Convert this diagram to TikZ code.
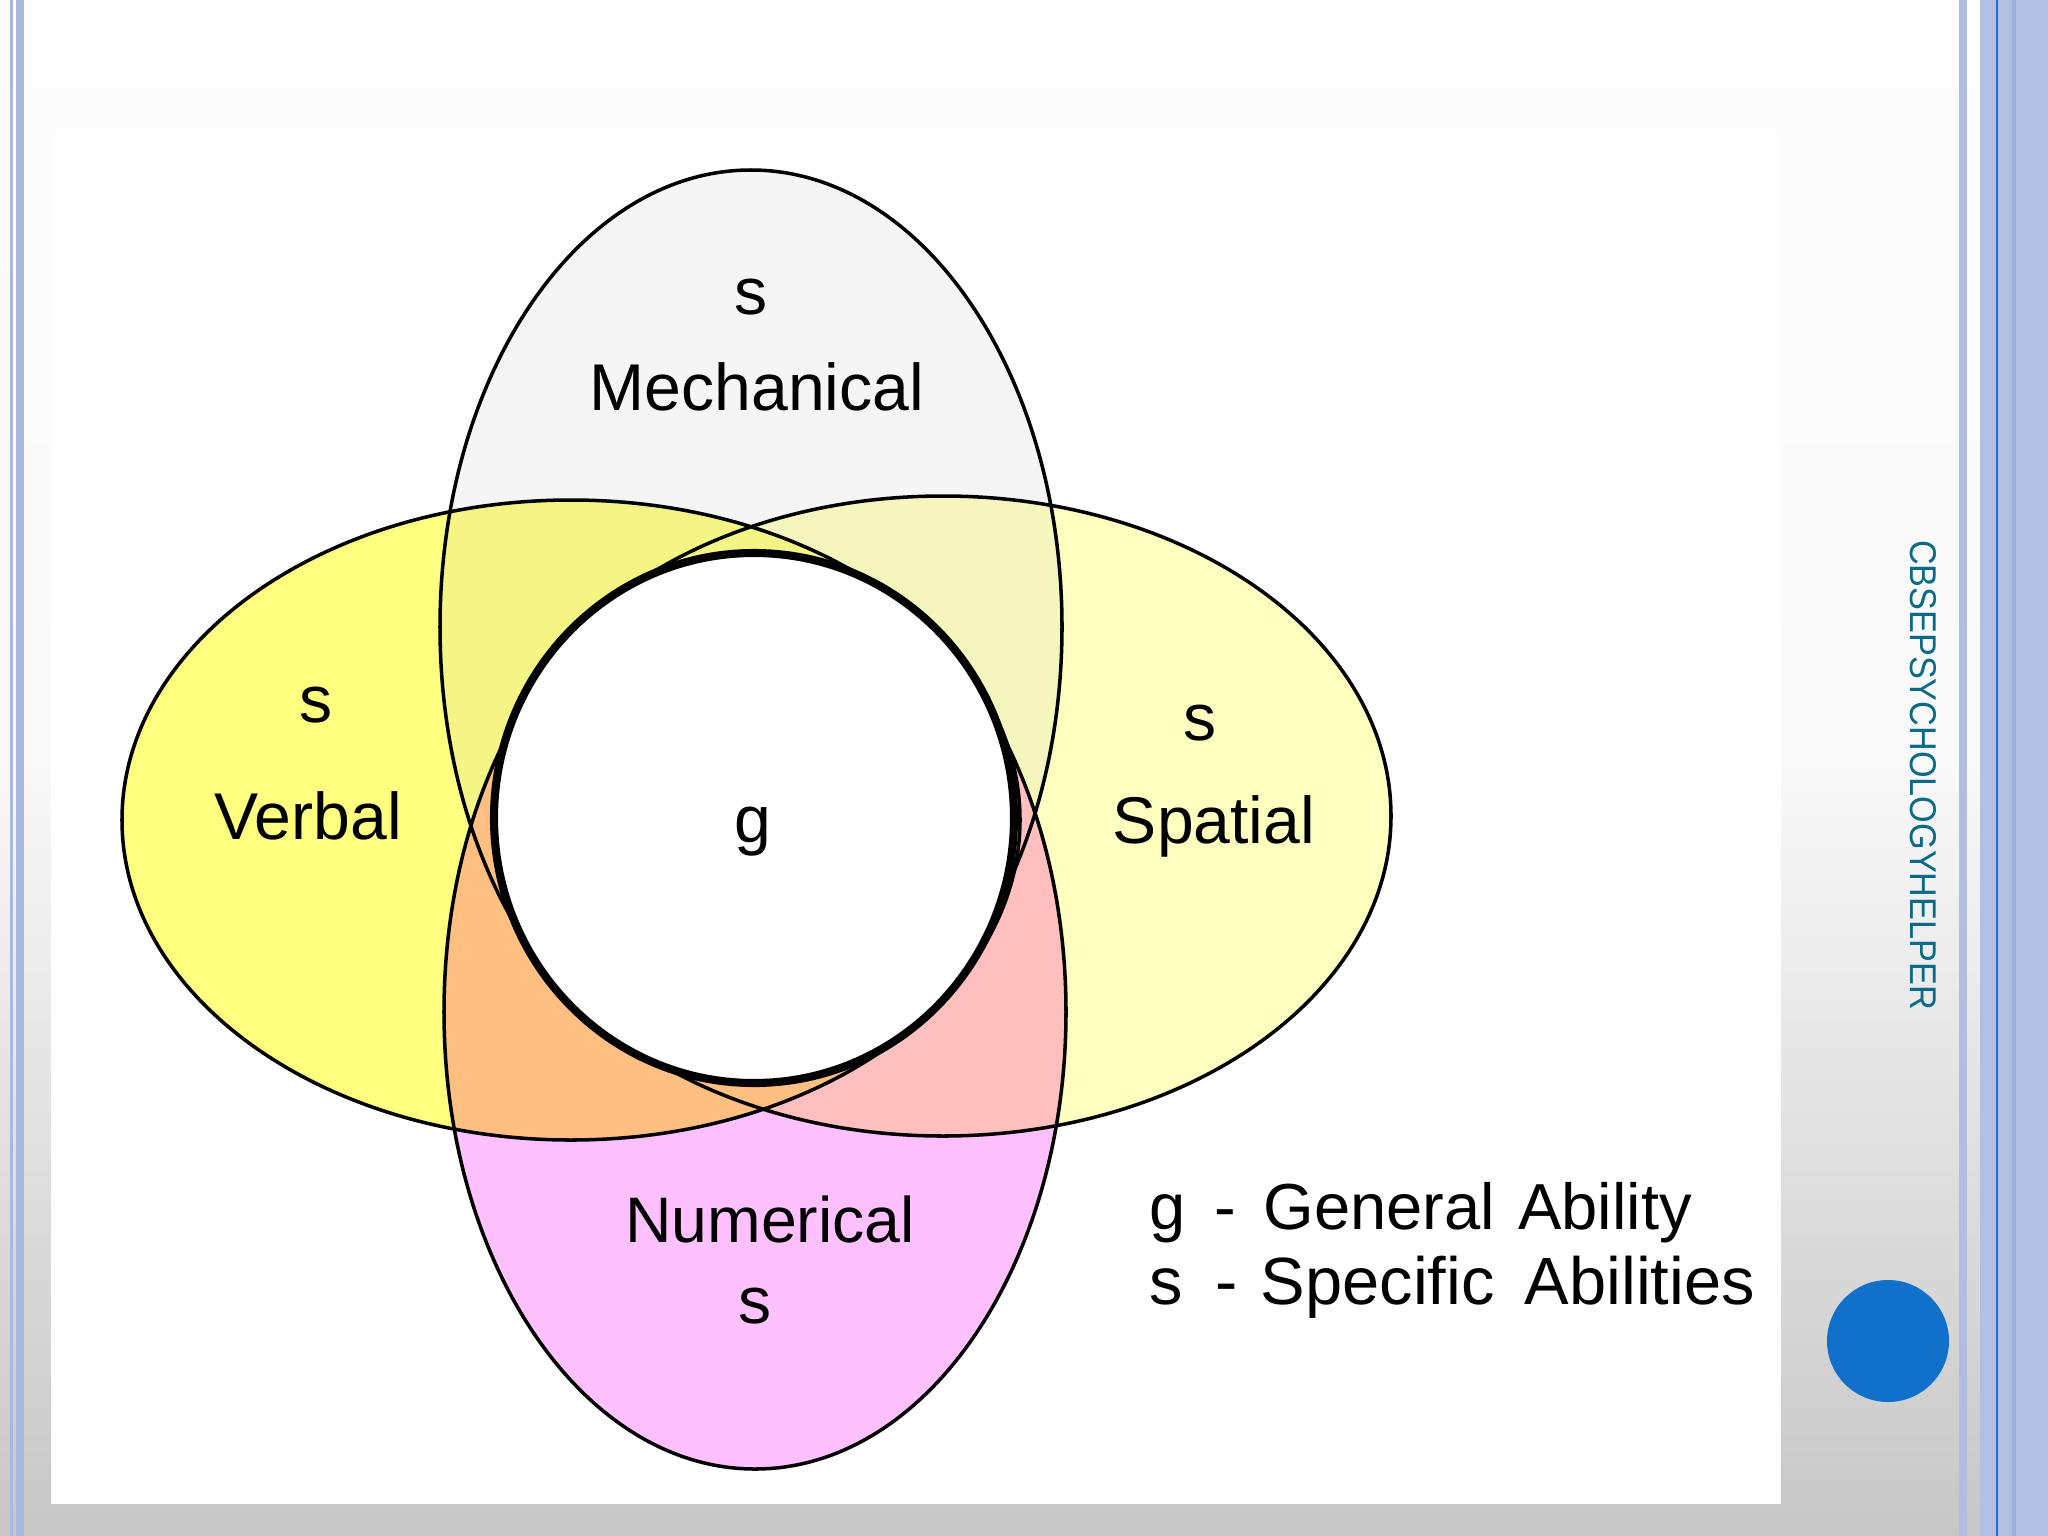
\documentclass[tikz,border=0pt]{standalone}
\usepackage{fontspec}
\setmainfont{Liberation Sans}
\definecolor{verbalc}{HTML}{FFFF80}
\definecolor{spatialc}{HTML}{FFFFC0}
\definecolor{mechc}{HTML}{F6F5F5}
\definecolor{numc}{HTML}{FFC0FF}
\definecolor{vmc}{HTML}{F5F585}
\definecolor{smc}{HTML}{F5F5BE}
\definecolor{vnc}{HTML}{FFBF80}
\definecolor{snc}{HTML}{FFBFBF}
\definecolor{stripc}{HTML}{B1C0E2}
\definecolor{stripb}{HTML}{B3BDE0}
\definecolor{stripl}{HTML}{ABB9DF}
\definecolor{bandc}{HTML}{9DB1DC}
\definecolor{linec}{HTML}{1F6FC4}
\definecolor{dotc}{HTML}{1170C9}
\definecolor{sidec}{HTML}{0B6A85}
\definecolor{greyc}{HTML}{C8C7C8}
\definecolor{topc}{HTML}{FEFDFD}
\tikzset{
  lbl/.style={inner sep=0pt,font=\fontsize{18.8}{22}\selectfont},
  legend/.style={inner sep=0pt,anchor=base west},
  outline/.style={draw=black,line width=1pt,fill=none},
}
\def\mech{(751,627) ellipse [x radius=311,y radius=457]}
\def\nume{(755,1012) ellipse [x radius=311,y radius=457]}
\def\verbe{(571,820) ellipse [x radius=449,y radius=320]}
\def\spat{(943,816) ellipse [x radius=448,y radius=320]}
\begin{document}
\begin{tikzpicture}[x=0.01cm,y=-0.01cm]
\useasboundingbox (0,0) rectangle (2048,1536);
\shade[top color=topc,bottom color=greyc,middle color=topc!92!greyc] (0,0) rectangle (2048,1536);
\fill[stripl] (10,0) rectangle (13,1536);
\fill[stripl] (16,0) rectangle (24,1536);
\fill[stripb] (1959,0) rectangle (1967,1536);
\fill[stripc] (1980,0) rectangle (2048,1536);
\fill[bandc] (2012,0) rectangle (2016,1536);
\fill[linec] (1996,0) rectangle (1998,1536);
\fill[white] (51,135) rectangle (1781,1504);
\fill[spatialc] \spat;
\fill[verbalc] \verbe;
\fill[mechc] \mech;
\fill[numc] \nume;
\begin{scope}\clip \mech; \fill[smc] \spat; \end{scope}
\begin{scope}\clip \mech; \fill[vmc] \verbe; \end{scope}
\begin{scope}\clip \nume; \fill[snc] \spat; \end{scope}
\begin{scope}\clip \nume; \fill[vnc] \verbe; \end{scope}
\draw[outline] \mech;
\draw[outline] \nume;
\draw[outline] \verbe;
\draw[outline] \spat;
\draw[black,fill=white,line width=2.3pt] (754,818) ellipse [x radius=260,y radius=265];
\node[lbl] (s1) at (751,297) {s};
\node[lbl] (mechl) at (757,387) {Mechanical};
\node[lbl] (s2) at (316,705) {s};
\node[lbl] (verbl) at (308,816) {Verbal};
\node[lbl] (s3) at (1200,723) {s};
\node[lbl] (spatl) at (1214,826) {Spatial};
\node[lbl] (g) at (753,832) {g};
\node[lbl,font=\fontsize{18.3}{22}\selectfont] (numl) at (770,1219) {Numerical};
\node[lbl] (s4) at (755,1306) {s};
\node[legend,font=\fontsize{18.5}{22}\selectfont] (lg1) at (1149,1229) {g\hspace{.44em}-\hspace{.42em}General\hspace{.36em}Ability};
\node[legend,font=\fontsize{19}{22}\selectfont] (lg2) at (1149,1304) {s\hspace{.48em}-\hspace{.35em}Specific\hspace{.45em}Abilities};
\fill[dotc] (1888,1341) circle [radius=61];
\node[inner sep=0pt,rotate=-90,xscale=.918,text=sidec,font=\fontsize{10.6}{12}\selectfont] (side) at (1923,775) {CBSEPSYCHOLOGYHELPER};
\end{tikzpicture}
\end{document}
